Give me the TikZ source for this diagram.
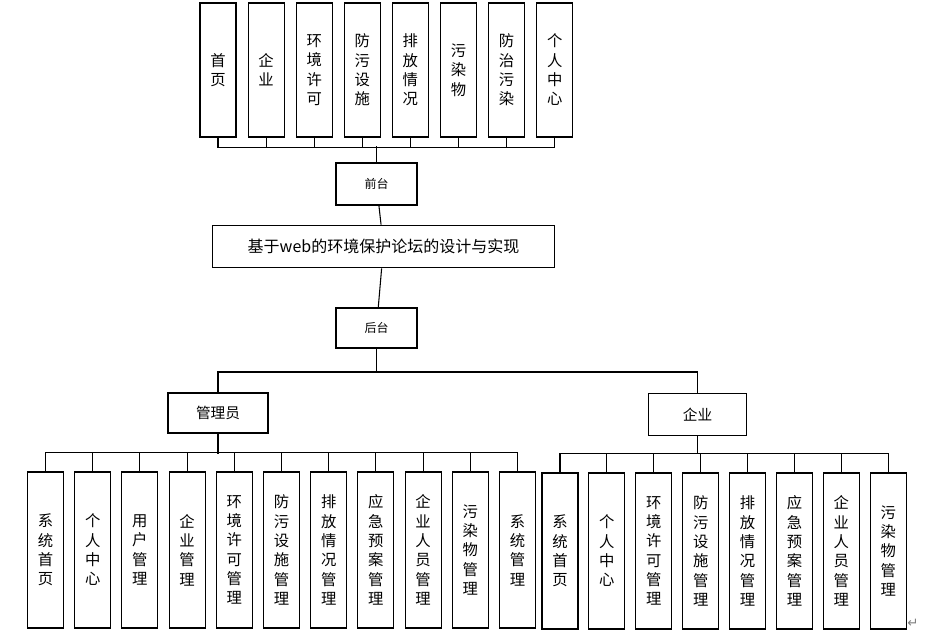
\documentclass[tikz,border=0pt]{standalone}
\usepackage{fontspec}
\setmainfont{Noto Sans CJK SC}
\newfontfamily\symf{DejaVu Sans}
\begin{document}
\begin{tikzpicture}[x=0.75pt,y=-0.75pt,
  vbox/.style={draw,line width=0.8pt,minimum width=27pt,inner sep=0pt,align=center,font=\fontsize{11.5pt}{14.5pt}\selectfont},
  hbox/.style={draw,line width=0.8pt,inner sep=0pt,font=\fontsize{11pt}{13pt}\selectfont},
  link/.style={line width=0.8pt}]
\useasboundingbox (0,0) rectangle (941,638);
% top
\foreach \t [count=\i] in {首\\页,企\\业,环\\境\\许\\可,防\\污\\设\\施,排\\放\\情\\况,污\\染\\物,防\\治\\污\\染,个\\人\\中\\心}{
  \node[vbox,minimum height=100.5pt] (t\i) at ({218+48.1*(\i-1)},70) {\t};
}
\node[hbox,minimum width=60.75pt,minimum height=31.5pt,font=\fontsize{9pt}{11pt}\selectfont] (qt) at (376.5,184) {前台};
\node[hbox,minimum width=257pt,minimum height=32pt,font=\fontsize{12pt}{14pt}\selectfont] (main) at (383.5,246.5) {基于web的环境保护论坛的设计与实现};
\node[hbox,minimum width=60.75pt,minimum height=30pt,font=\fontsize{9pt}{11pt}\selectfont] (ht) at (376.5,328) {后台};
\node[hbox,minimum width=75pt,minimum height=30pt] (adm) at (218,413) {管理员};
\node[hbox,minimum width=74pt,minimum height=32pt] (ent) at (697.5,414.5) {企业};
\foreach \i in {1,...,8}{ \draw[link] (t\i.south) -- ++(0,10); }
\draw[link] (t1.south)++(0,10) -- ([yshift=-7.5pt]t8.south);
\draw[link] (qt.north) -- ++(0,-16);
\draw[link] (qt) -- (main);
\draw[link] (main) -- (ht);
\coordinate (hb) at (376.5,372);
\draw[link] (ht.south) -- (hb);
\draw[link] (adm.north) |- (hb) -| (ent.north);
% admin
\foreach \t [count=\i] in {系\\统\\首\\页,个\\人\\中\\心,用\\户\\管\\理,企\\业\\管\\理,环\\境\\许\\可\\管\\理,防\\污\\设\\施\\管\\理,排\\放\\情\\况\\管\\理,应\\急\\预\\案\\管\\理,企\\业\\人\\员\\管\\理,污\\染\\物\\管\\理,系\\统\\管\\理}{
  \node[vbox,minimum height=117pt] (a\i) at ({45.5+47.2*(\i-1)},550) {\t};
  \draw[link] (a\i.north) -- ++(0,-19);
}
\draw[link] (adm.south) -- ++(0,20);
\draw[link] ([yshift=14.25pt]a1.north) -- ([yshift=14.25pt]a11.north);
% enterprise
\foreach \t [count=\i] in {系\\统\\首\\页,个\\人\\中\\心,环\\境\\许\\可\\管\\理,防\\污\\设\\施\\管\\理,排\\放\\情\\况\\管\\理,应\\急\\预\\案\\管\\理,企\\业\\人\\员\\管\\理,污\\染\\物\\管\\理}{
  \node[vbox,minimum height=117pt] (e\i) at ({560+46.9*(\i-1)},551) {\t};
  \draw[link] (e\i.north) -- ++(0,-19);
}
\draw[link] (ent.south) -- ++(0,17);
\draw[link] ([yshift=14.25pt]e1.north) -- ([yshift=14.25pt]e8.north);
\node[font=\symf\fontsize{10pt}{12pt}\selectfont,text=gray,inner sep=0pt] (ret) at (913,623) {↵};
\end{tikzpicture}
\end{document}
